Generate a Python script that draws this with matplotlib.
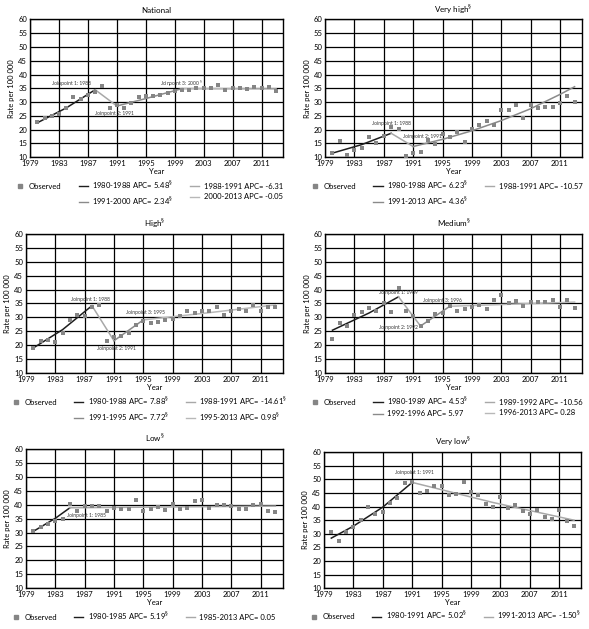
import matplotlib.pyplot as plt
from matplotlib.lines import Line2D

plt.rcParams['font.family'] = ['Lato', 'DejaVu Sans']

years = list(range(1980, 2014))

# observed rates per 100 000, 1980-2013
national = [22.8, 24.2, 24.8, 25.8, 27.8, 31.7, 31.0, 32.5, 33.8, 35.8, 27.8, 29.0, 28.0, 29.8,
            32.0, 32.2, 32.3, 32.5, 33.2, 34.2, 34.4, 34.3, 35.0, 35.0, 35.0, 36.2, 34.3, 35.0,
            35.3, 34.6, 35.6, 35.2, 35.4, 34.2]
very_high = [11.5, 15.9, 10.8, 12.8, 13.3, 17.5, 15.3, 17.6, 20.8, 20.2, 10.5, 11.6, 12.0, 16.4,
             14.8, 18.4, 17.3, 19.0, 15.6, 20.1, 21.6, 23.0, 21.6, 27.2, 27.2, 28.8, 24.1, 28.8,
             27.7, 28.2, 28.1, 29.7, 32.2, 30.0]
high = [18.9, 21.4, 21.9, 21.1, 24.4, 28.9, 30.9, 30.4, 33.6, 34.3, 21.4, 22.9, 23.4, 24.4,
        27.3, 28.6, 28.1, 28.3, 28.9, 29.5, 30.4, 32.2, 31.6, 32.4, 32.2, 33.6, 31.0, 32.4,
        33.1, 32.4, 34.6, 32.2, 33.6, 33.6]
medium = [22.4, 28.0, 27.0, 30.8, 31.8, 33.4, 32.4, 35.0, 31.8, 40.4, 32.2, 30.6, 26.8, 28.8,
          31.4, 31.6, 34.0, 32.4, 33.0, 33.6, 34.3, 33.0, 36.2, 38.2, 35.2, 36.0, 34.1, 35.6,
          35.5, 35.4, 36.2, 33.7, 36.2, 33.5]
low = [30.5, 31.9, 33.2, 34.2, 35.0, 40.2, 37.8, 39.4, 39.4, 39.7, 37.6, 38.7, 38.6, 38.6,
       41.8, 37.8, 38.6, 39.0, 38.1, 40.3, 38.4, 38.8, 41.5, 41.8, 38.8, 39.8, 39.8, 39.4,
       38.6, 38.6, 39.8, 40.2, 37.6, 37.3]
very_low = [30.6, 27.2, 30.8, 32.5, 35.0, 40.0, 37.4, 38.0, 41.4, 43.1, 48.6, 49.0, 45.0, 45.8,
            47.4, 47.7, 44.3, 44.5, 49.2, 45.5, 44.1, 41.1, 39.8, 43.5, 39.4, 40.6, 38.5, 37.3,
            38.6, 36.1, 35.5, 38.6, 34.6, 32.9]

# joinpoint fitted segments: (years, fitted values)
nat_fit = [([1980, 1984, 1988], [22.5, 27.9, 34.5]),
           ([1988, 1991], [34.5, 28.6]),
           ([1991, 1995, 2000], [28.6, 31.3, 34.9]),
           ([2000, 2013], [34.9, 34.8])]
vh_fit = [([1980, 1984, 1988], [11.5, 14.6, 18.7]),
          ([1988, 1991], [18.7, 13.9]),
          ([1991, 1995, 1999, 2003, 2007, 2011, 2013], [13.9, 16.5, 19.6, 23.3, 27.6, 32.8, 35.6])]
high_fit = [([1980, 1984, 1988], [19.0, 25.6, 34.2]),
            ([1988, 1991], [34.2, 21.6]),
            ([1991, 1995], [21.6, 29.1]),
            ([1995, 2004, 2013], [29.1, 31.7, 34.5])]
med_fit = [([1980, 1985, 1989], [25.4, 31.6, 37.4]),
           ([1989, 1992], [37.4, 26.9]),
           ([1992, 1996], [26.9, 34.0]),
           ([1996, 2013], [34.0, 35.5])]
low_fit = [([1980, 1983, 1985], [30.4, 35.1, 38.9]),
           ([1985, 2013], [38.9, 39.5])]
vl_fit = [([1980, 1983, 1987, 1991], [28.4, 32.8, 39.8, 48.9]),
          ([1991, 2002, 2013], [48.9, 41.5, 35.0])]

fit_labels = {
    'National': ['1980-1988 APC= 5.48$^{\\S}$', '1988-1991 APC= -6.31',
                 '1991-2000 APC= 2.34$^{\\S}$', '2000-2013 APC= -0.05'],
    'Very high': ['1980-1988 APC= 6.23$^{\\S}$', '1988-1991 APC= -10.57',
                  '1991-2013 APC= 4.36$^{\\S}$'],
    'High': ['1980-1988 APC= 7.88$^{\\S}$', '1988-1991 APC= -14.61$^{\\S}$',
             '1991-1995 APC= 7.72$^{\\S}$', '1995-2013 APC= 0.98$^{\\S}$'],
    'Medium': ['1980-1989 APC= 4.53$^{\\S}$', '1989-1992 APC= -10.56',
               '1992-1996 APC= 5.97', '1996-2013 APC= 0.28'],
    'Low': ['1980-1985 APC= 5.19$^{\\S}$', '1985-2013 APC= 0.05'],
    'Very low': ['1980-1991 APC= 5.02$^{\\S}$', '1991-2013 APC= -1.50$^{\\S}$'],
}

joinpoints = {
    'National': [('Joinpoint 1: 1988', 1984.7, 36.6), ('Joinpoint 2: 1991', 1990.7, 25.9),
                 ('Joinpoint 3: 2000 $^{\\S}$', 2000.0, 36.6)],
    'Very high': [('Joinpoint 1: 1988', 1988.0, 22.4), ('Joinpoint 2: 1991', 1992.3, 17.4)],
    'High': [('Joinpoint 1: 1988', 1987.8, 36.6), ('Joinpoint 2: 1991', 1991.3, 18.9),
             ('Joinpoint 3: 1995', 1995.3, 31.6)],
    'Medium': [('Joinpoint 1: 1989', 1989.0, 38.8), ('Joinpoint 2: 1992', 1989.0, 26.3),
               ('Joinpoint 3: 1996', 1995.0, 36.1)],
    'Low': [('Joinpoint 1: 1985', 1987.3, 36.0)],
    'Very low': [('Joinpoint 1: 1991', 1991.3, 52.6)],
}

panels = [
    ('National', 'National', national, nat_fit, [0.051, 0.750, 0.430, 0.219]),
    ('Very high', 'Very high$^{\\S}$', very_high, vh_fit, [0.552, 0.750, 0.436, 0.219]),
    ('High', 'High$^{\\S}$', high, high_fit, [0.044, 0.407, 0.436, 0.221]),
    ('Medium', 'Medium$^{\\S}$', medium, med_fit, [0.552, 0.407, 0.436, 0.221]),
    ('Low', 'Low$^{\\S}$', low, low_fit, [0.044, 0.065, 0.436, 0.221]),
    ('Very low', 'Very low$^{\\S}$', very_low, vl_fit, [0.550, 0.065, 0.437, 0.216]),
]

seg_colors = ['#1e1e1e', '#a8a8a8', '#8a8a8a', '#b8b8b8']
obs_color = '#858585'

fig = plt.figure(figsize=(5.89, 6.29), dpi=100)

for key, title, obs, fit, pos in panels:
    ax = fig.add_axes(pos)
    ax.plot(years, obs, 's', color=obs_color, markersize=2.2, markeredgewidth=0, zorder=3)
    for i, (fx, fy) in enumerate(fit):
        ax.plot(fx, fy, color=seg_colors[i], linewidth=1.1, zorder=2)
    for txt, tx, ty in joinpoints[key]:
        ax.text(tx, ty, txt, fontsize=3.6, ha='center', va='center', color='#333333', zorder=4)

    ax.set_xlim(1979, 2014)
    ax.set_ylim(10, 60)
    ax.set_xticks(range(1979, 2012, 4))
    ax.set_yticks(range(10, 61, 5))
    ax.grid(True, color='black', linewidth=0.9)
    ax.set_axisbelow(True)
    ax.tick_params(length=0, labelsize=5.5, pad=2)
    for s in ax.spines.values():
        s.set_linewidth(1.0)
    ax.set_title(title, fontsize=5.8, pad=5)
    ax.set_xlabel('Year', fontsize=5.5, labelpad=1)
    ax.set_ylabel('Rate per 100 000', fontsize=5.5, labelpad=2)

    obs_h = Line2D([], [], marker='s', linestyle='none', color=obs_color, markersize=2.5)
    blank = Line2D([], [], linestyle='none')
    lh = [Line2D([], [], color=seg_colors[i], linewidth=1.0) for i in range(len(fit))]
    labs = fit_labels[key]
    if len(fit) == 4:
        handles = [obs_h, blank, lh[0], lh[2], lh[1], lh[3]]
        labels = ['Observed', '', labs[0], labs[2], labs[1], labs[3]]
    elif len(fit) == 3:
        handles = [obs_h, blank, lh[0], lh[2], lh[1]]
        labels = ['Observed', '', labs[0], labs[2], labs[1]]
    else:
        handles = [obs_h, lh[0], lh[1]]
        labels = ['Observed', labs[0], labs[1]]
    ax.legend(handles, labels, loc='upper left', bbox_to_anchor=(-0.07, -0.13), ncol=3,
              frameon=False, fontsize=5.5, handlelength=1.2, handletextpad=0.6,
              columnspacing=2.2, labelspacing=0.5, borderaxespad=0)

fig.savefig('out.png', dpi=100)
